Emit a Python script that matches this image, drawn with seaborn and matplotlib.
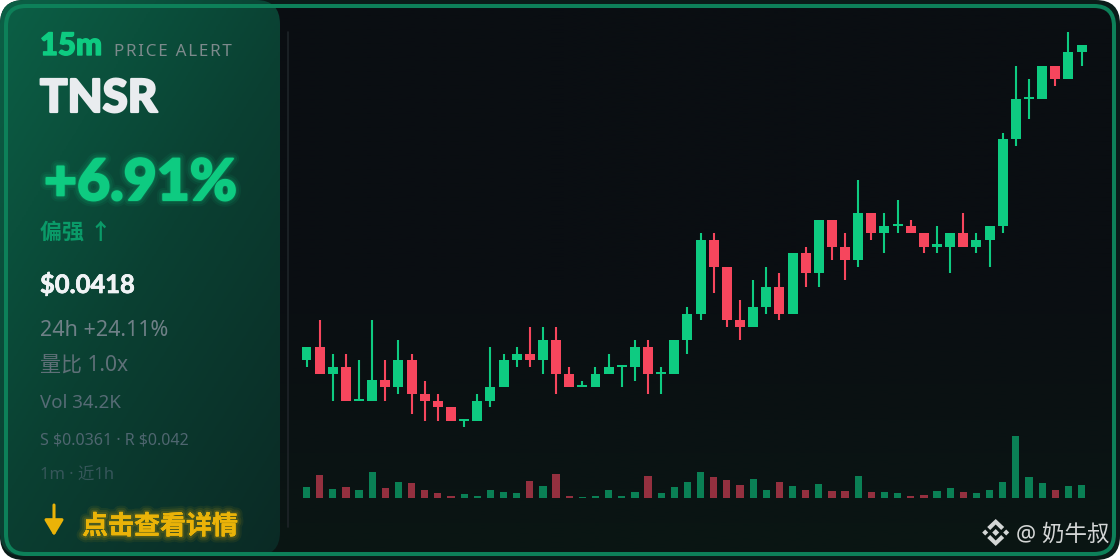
import numpy as np
import pandas as pd
import matplotlib
matplotlib.use("Agg")
import matplotlib.pyplot as plt
import matplotlib.patheffects as pe
from matplotlib.patches import FancyBboxPatch, Polygon
from matplotlib.colors import LinearSegmentedColormap
import seaborn as sns

# price in units of $0.0001
opens = [371, 373, 369, 370, 365, 365, 368, 367, 371, 366, 365, 364, 362, 362, 365, 367, 371, 372, 371, 374,
         369, 367, 367, 369, 370, 370, 373, 369, 369, 374, 378, 389, 385, 377, 376, 379, 382, 378, 387, 384,
         392, 388, 386, 393, 390, 391, 391, 390, 388, 388, 390, 388, 389, 391, 404, 410, 410, 415, 413, 417]
closes = [373, 369, 370, 365, 365, 368, 367, 371, 366, 365, 364, 362, 362, 365, 367, 371, 372, 371, 374, 369,
          367, 367, 369, 370, 370, 373, 369, 369, 374, 378, 389, 385, 377, 376, 379, 382, 378, 387, 384, 392,
          388, 386, 393, 390, 391, 391, 390, 388, 388, 390, 388, 389, 391, 404, 410, 410, 415, 413, 417, 418]
highs = [373, 377, 372, 372, 371, 377, 371, 374, 372, 368, 366, 364, 362, 366, 373, 372, 373, 376, 376, 376,
         370, 368, 370, 372, 370, 374, 374, 370, 374, 379, 390, 390, 385, 380, 383, 385, 384, 387, 388, 392,
         392, 390, 398, 393, 393, 395, 392, 390, 391, 390, 393, 390, 391, 405, 415, 413, 415, 415, 420, 418]
lows = [370, 369, 365, 365, 365, 365, 365, 366, 363, 362, 362, 362, 361, 362, 364, 367, 370, 370, 369, 366,
        367, 367, 367, 369, 367, 368, 366, 366, 369, 372, 377, 381, 376, 374, 376, 378, 377, 378, 382, 382,
        386, 383, 385, 389, 387, 390, 390, 387, 387, 384, 388, 387, 385, 390, 403, 407, 410, 412, 413, 415]
volumes = [11, 22.7, 8.7, 10.7, 7.7, 25.7, 9.7, 15.7, 14.3, 7.3, 4.3, 1.3, 3.7, 1.7, 7.7, 5.3, 4.3, 17, 11.7, 23.3,
           1.3, 0.7, 1.7, 7.3, 1.7, 5.3, 21.7, 5, 10.3, 15.3, 25.3, 20.7, 17.3, 12.3, 18.7, 8, 15.3, 12, 7.7, 13.3,
           6.7, 6.3, 21.7, 6, 5.7, 4.7, 2, 2.3, 6.7, 10, 5.7, 5, 7.3, 15.3, 61.7, 20.7, 14.3, 8, 11.3, 13]

UP = "#0ecb81"
DOWN = "#f6465d"
UP_VOL = "#0a8055"
DOWN_VOL = "#94303f"

df = pd.DataFrame({"i": range(len(opens)), "open": opens, "close": closes, "high": highs, "low": lows, "vol": volumes})
df["up"] = df["close"] >= df["open"]
df["base"] = df[["open", "close"]].min(axis=1)
df["body"] = (df["close"] - df["open"]).abs().clip(lower=0.3)

sns.set_theme(style="dark", rc={"figure.facecolor": "#ffffff", "axes.facecolor": "none"})
plt.rcParams["font.family"] = ["Noto Sans", "Noto Sans CJK SC", "DejaVu Sans"]
HEAVY = ["Lato", "Noto Sans CJK SC", "DejaVu Sans"]

W, H = 1120, 560
fig = plt.figure(figsize=(11.2, 5.6), dpi=100)


def px_axes(x0, y0, x1, y1, **kw):
    return fig.add_axes([x0 / W, 1 - y1 / H, (x1 - x0) / W, (y1 - y0) / H], **kw)


# background layer, pixel coordinates
bg = px_axes(0, 0, W, H)
bg.axis("off")

outer = FancyBboxPatch((0, 0), W, H, boxstyle="round,pad=0,rounding_size=24", fc="#0a1c19", ec="none")
bg.add_patch(outer)
inner = FancyBboxPatch((6, 6), W - 12, H - 12, boxstyle="round,pad=0,rounding_size=20", fc="#0a0e12", ec="none")
bg.add_patch(inner)

# faint green tint towards the bottom edge of the card
tint = LinearSegmentedColormap.from_list("tint", ["#0a0e12", "#0a0e12", "#0a1614"])
shade = bg.imshow(np.linspace(0, 1, 200)[:, None], extent=(0, W, H, 0), cmap=tint, aspect="auto", zorder=1)
shade.set_clip_path(inner)

panel_cm = LinearSegmentedColormap.from_list("panel", ["#0c6046", "#0a4032", "#0b2a25"])
xx, yy = np.meshgrid(np.linspace(0, 1, 140), np.linspace(0, 1, 280))
grad = bg.imshow(xx * 0.45 + yy * 0.55, extent=(0, 280, 556, 0), cmap=panel_cm, aspect="auto", zorder=2)
panel = FancyBboxPatch((0, 0), 280, 556, boxstyle="round,pad=0,rounding_size=24", fc="none", ec="none", zorder=2)
bg.add_patch(panel)
grad.set_clip_path(panel)
bg.set_xlim(0, W)
bg.set_ylim(H, 0)
# border runs over the panel
bg.add_patch(FancyBboxPatch((6, 6), W - 12, H - 12, boxstyle="round,pad=0,rounding_size=20",
                            fc="none", ec="#0d8059", lw=2.9, zorder=3))
bg.plot([288, 288], [32, 527], color="#1e2428", lw=1.2, zorder=3)

# chart axes
TICK = 6.7
X0, DX = 306.5, 13.136
Y418 = 45.5
left, right, top, bottom = 293, 1094, 20, 440
ax = px_axes(left, top, right, bottom)

for flag, col in [(True, UP), (False, DOWN)]:
    sub = df[df["up"] == flag]
    ax.vlines(sub["i"], sub["low"], sub["high"], color=col, lw=1.5, zorder=2)
    sns.barplot(data=sub, x="i", y="body", bottom=sub["base"].values, native_scale=True, errorbar=None,
                color=col, saturation=1, width=0.76, linewidth=0, ax=ax, zorder=3)
ax.set_xlim((left - X0) / DX, (right - X0) / DX)
ax.set_ylim(418 - (bottom - Y418) / TICK, 418 - (top - Y418) / TICK)
ax.axis("off")

vax = px_axes(left, 430, right, 497.7)
for flag, col in [(True, UP_VOL), (False, DOWN_VOL)]:
    sub = df[df["up"] == flag]
    sns.barplot(data=sub, x="i", y="vol", native_scale=True, errorbar=None, color=col, saturation=1,
                width=0.55, linewidth=0, ax=vax)
vax.set_xlim((left - X0) / DX, (right - X0) / DX)
vax.set_ylim(0, 67.7)
vax.axis("off")

# text layer
tx = px_axes(0, 0, W, H)
tx.set_xlim(0, W)
tx.set_ylim(H, 0)
tx.axis("off")


def label(x, y, s, px, color, weight="normal", glow=None, stroke=0, **kw):
    t = tx.text(x, y, s, fontsize=px * 0.72, color=color, fontweight=weight, va="baseline", ha="left", **kw)
    fx = []
    if glow:
        fx += [pe.withStroke(linewidth=w, foreground=glow, alpha=a) for w, a in [(9, 0.07), (6, 0.1), (3, 0.15)]]
    if stroke:
        # the heavy face is lighter than the original, thicken it
        fx.append(pe.withStroke(linewidth=stroke, foreground=color))
    if fx:
        t.set_path_effects(fx + [pe.Normal()])
    return t


HAIR = "\u200a"
label(40, 55, "15m", 31, "#0ecb81", "black", stroke=1, family=HEAVY)
label(114, 56, HAIR.join("PRICE ALERT"), 17, "#7d8a8c")
label(40, 112, "TNSR", 45.5, "#e9ecef", "black", stroke=1.6, family=HEAVY)
label(44, 200, "+6.91%", 57, "#0ecb81", "black", glow="#0ecb81", stroke=1.5, family=HEAVY)
label(40, 239, "偏强 ↑", 22, "#0a9a68", "bold")
label(40, 293, "\\$0.0418", 25.5, "#f0f3f5", "bold", stroke=0.5, family=HEAVY)
label(40, 336, "24h +24.11%", 21.5, "#6f8087")
label(40, 372, "量比 1.0x", 21, "#5f7078")
label(40, 408, "Vol 34.2K", 18.7, "#566b75")
label(40, 444, "S \\$0.0361 · R \\$0.042", 16, "#4f6670")
label(40, 480, "1m · 近1h", 16.5, "#36565a")
label(82, 534, "点击查看详情", 26, "#eab308", "bold", glow="#eab308")
tx.annotate("", xy=(54, 536), xytext=(54, 505),
            arrowprops=dict(arrowstyle="-|>,head_width=0.36,head_length=0.6", color="#eab308", lw=2.2,
                            shrinkA=0, shrinkB=0, mutation_scale=16))

label(1016, 541, "@ 奶牛叔", 22.5, "#d4d6d6")
cx, cy = 995.7, 532.5
for dx, r in [(0, 3.5), (-10.5, 3), (10.5, 3)]:
    tx.add_patch(Polygon([(cx + dx, cy - r), (cx + dx + r, cy), (cx + dx, cy + r), (cx + dx - r, cy)], fc="#d4d6d6", ec="none"))
for s in (-1, 1):
    tx.add_patch(Polygon([(cx, cy + s * 13.5), (cx + 8.5, cy + s * 5.5), (cx + 5.5, cy + s * 2.5), (cx, cy + s * 8),
                          (cx - 5.5, cy + s * 2.5), (cx - 8.5, cy + s * 5.5)], fc="#d4d6d6", ec="none"))

fig.savefig("out.png", dpi=100, facecolor="white")
